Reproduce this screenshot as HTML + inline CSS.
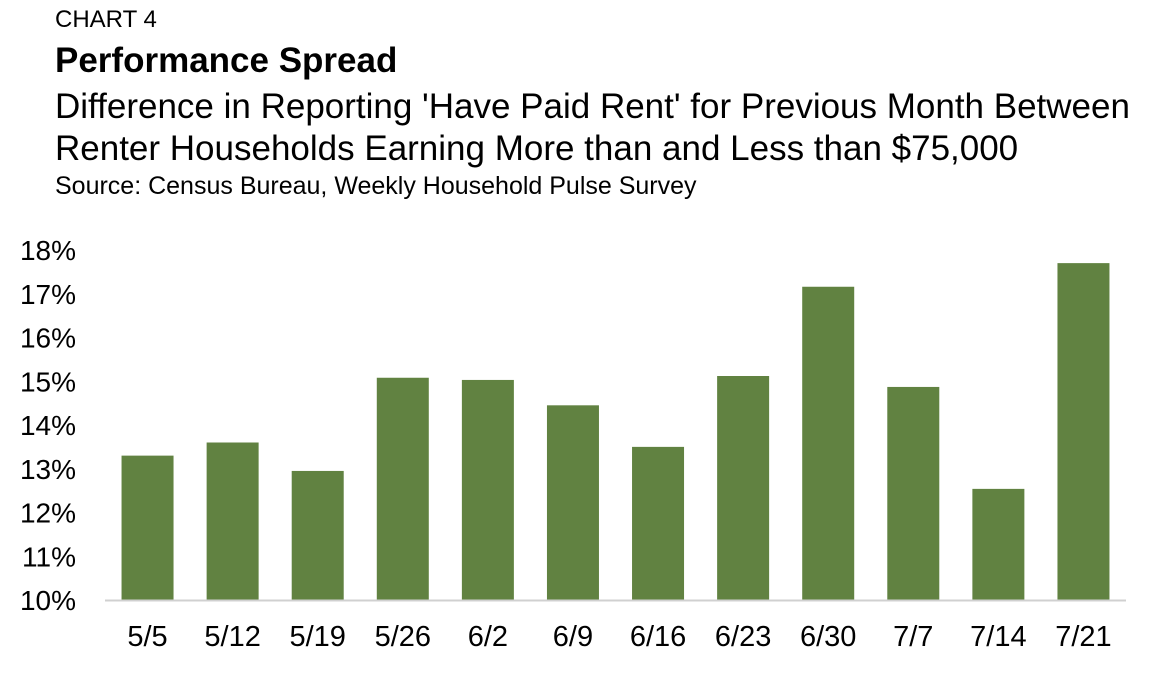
<!DOCTYPE html>
<html><head><meta charset="utf-8"><style>
body{margin:0;background:#fff;font-family:"Liberation Sans",sans-serif;color:#000;}
#wrap{position:relative;width:1152px;height:682px;overflow:hidden;}
.t{position:absolute;left:55px;white-space:nowrap;}
</style></head><body>
<div id="wrap">
<div class="t" style="top:6px;font-size:24px;line-height:28px;">CHART 4</div>
<div class="t" style="top:41px;font-size:35px;line-height:40px;font-weight:bold;">Performance Spread</div>
<div class="t" style="top:86px;font-size:35px;line-height:42px;">Difference in Reporting 'Have Paid Rent' for Previous Month Between<br>Renter Households Earning More than and Less than $75,000</div>
<div class="t" style="top:171px;font-size:25px;line-height:30px;">Source: Census Bureau, Weekly Household Pulse Survey</div>
<svg id="svg" width="1152" height="682" style="position:absolute;left:0;top:0"></svg>
</div>
<script>
const categories=["5/5","5/12","5/19","5/26","6/2","6/9","6/16","6/23","6/30","7/7","7/14","7/21"];
const values=[13.3,13.6,12.95,15.08,15.03,14.45,13.5,15.12,17.16,14.87,12.54,17.7];
const yTicks=[10,11,12,13,14,15,16,17,18];
const svg=document.getElementById('svg');const NS='http://www.w3.org/2000/svg';
const x0=105,x1=1126,yBase=600,yTop=250,vMin=10,vMax=18;
const y=v=>yBase-(v-vMin)/(vMax-vMin)*(yBase-yTop);
const bw=(x1-x0)/categories.length;
const xc=i=>x0+bw*(i+0.5);
function mk(t,a){const e=document.createElementNS(NS,t);for(const k in a)e.setAttribute(k,a[k]);svg.appendChild(e);return e;}
yTicks.forEach(v=>{const e=mk('text',{x:76,y:y(v)+10,'text-anchor':'end','font-size':28,'font-family':'Liberation Sans, sans-serif'});e.textContent=v+'%';

});
values.forEach((v,i)=>{const r=mk('rect',{x:xc(i)-26,y:y(v),width:52,height:yBase-y(v),fill:'#618241'});


const t=mk('text',{x:xc(i),y:646,'text-anchor':'middle','font-size':29,'font-family':'Liberation Sans, sans-serif'});t.textContent=categories[i];

});
const ax=mk('line',{x1:x0,x2:x1,y1:yBase+0.5,y2:yBase+0.5,stroke:'#d0d0d0','stroke-width':2});


</script>
</body></html>
